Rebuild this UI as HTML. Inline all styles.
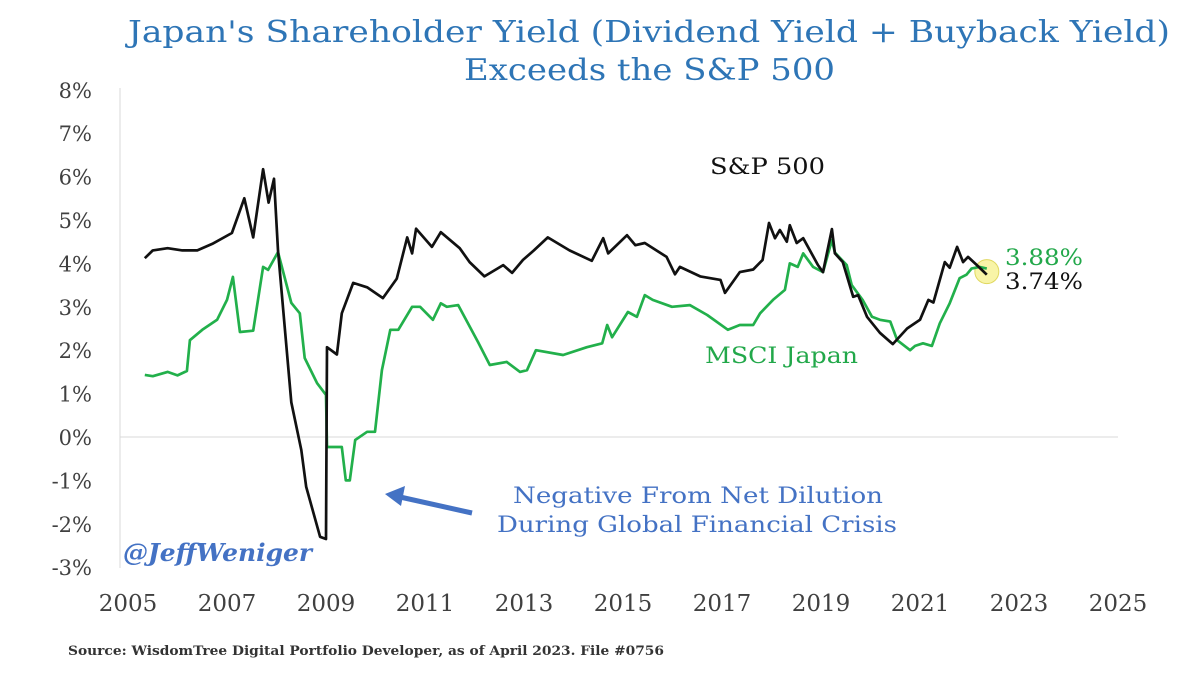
<!DOCTYPE html>
<html><head><meta charset="utf-8"><style>
html,body{margin:0;padding:0;background:#fff;}
svg{display:block;font-family:"DejaVu Serif","Liberation Serif",serif;}
</style></head><body>
<svg id="chart" width="1200" height="675" viewBox="0 0 1200 675">
<text x="128" y="42" font-size="30" fill="#2e75b6" textLength="1042" lengthAdjust="spacingAndGlyphs">Japan's Shareholder Yield (Dividend Yield + Buyback Yield)</text>
<text x="464" y="80" font-size="30" fill="#2e75b6" textLength="371" lengthAdjust="spacingAndGlyphs">Exceeds the S&amp;P 500</text>
<g id="yaxis"></g>
<g id="xaxis"></g>
<line x1="120" y1="88" x2="120" y2="568" stroke="#d9d9d9" stroke-width="1"/>
<g id="series"></g>
<circle id="endcircle" r="12" fill="#f5f08a" fill-opacity="0.75" stroke="#e0d860"/>
<text x="710" y="174" font-size="22" fill="#111" textLength="115" lengthAdjust="spacingAndGlyphs">S&amp;P 500</text>
<text x="705" y="363" font-size="22" fill="#22a84a" textLength="153" lengthAdjust="spacingAndGlyphs">MSCI Japan</text>
<text x="1005" y="265" font-size="22" fill="#22a84a" textLength="78" lengthAdjust="spacingAndGlyphs">3.88%</text>
<text x="1005" y="289" font-size="22" fill="#111" textLength="78" lengthAdjust="spacingAndGlyphs">3.74%</text>
<text x="513" y="503" font-size="22" fill="#4472c4" textLength="370" lengthAdjust="spacingAndGlyphs">Negative From Net Dilution</text>
<text x="497" y="532" font-size="22" fill="#4472c4" textLength="400" lengthAdjust="spacingAndGlyphs">During Global Financial Crisis</text>
<line x1="472" y1="513" x2="400" y2="497" stroke="#4472c4" stroke-width="5"/>
<polygon points="385,494 405,486 401,506" fill="#4472c4"/>
<text x="123" y="561" font-size="24" font-weight="bold" font-style="italic" fill="#4472c4" textLength="189" lengthAdjust="spacingAndGlyphs">@JeffWeniger</text>
<text x="68" y="655" font-size="13" font-weight="bold" fill="#333" textLength="596" lengthAdjust="spacingAndGlyphs">Source: WisdomTree Digital Portfolio Developer, as of April 2023. File #0756</text>
</svg>
<script>
const yTicks=[8,7,6,5,4,3,2,1,0,-1,-2,-3];
const xTicks=[2005,2007,2009,2011,2013,2015,2017,2019,2021,2023,2025];
const spYears=[2005.34,2005.5,2005.8,2006.1,2006.4,2006.7,2007.1,2007.35,2007.53,2007.73,2007.84,2007.95,2008.03,2008.3,2008.5,2008.6,2008.88,2009.0,2009.02,2009.22,2009.32,2009.55,2009.83,2010.15,2010.43,2010.64,2010.74,2010.82,2011.14,2011.32,2011.7,2011.9,2012.2,2012.58,2012.76,2012.98,2013.2,2013.48,2013.92,2014.37,2014.6,2014.7,2015.08,2015.25,2015.44,2015.88,2016.05,2016.15,2016.56,2016.97,2017.06,2017.36,2017.63,2017.82,2017.95,2018.07,2018.17,2018.31,2018.37,2018.51,2018.64,2018.94,2019.04,2019.22,2019.28,2019.44,2019.65,2019.75,2019.93,2020.19,2020.45,2020.74,2021.0,2021.17,2021.27,2021.5,2021.6,2021.75,2021.87,2021.97,2022.15,2022.35];
const spVals=[4.12,4.3,4.35,4.3,4.3,4.45,4.7,5.5,4.6,6.17,5.4,5.95,4.3,0.8,-0.3,-1.15,-2.3,-2.35,2.07,1.9,2.85,3.55,3.45,3.2,3.65,4.6,4.23,4.8,4.38,4.72,4.35,4.03,3.7,3.96,3.78,4.08,4.3,4.6,4.3,4.06,4.58,4.23,4.65,4.42,4.47,4.15,3.75,3.92,3.7,3.62,3.32,3.8,3.86,4.08,4.93,4.58,4.77,4.5,4.88,4.47,4.58,3.96,3.8,4.79,4.23,4.03,3.23,3.27,2.77,2.4,2.14,2.5,2.7,3.16,3.1,4.03,3.9,4.38,4.03,4.15,3.96,3.74];
const jpYears=[2005.34,2005.5,2005.8,2006.0,2006.19,2006.25,2006.5,2006.8,2007.0,2007.12,2007.26,2007.53,2007.73,2007.83,2008.03,2008.3,2008.47,2008.57,2008.82,2009.0,2009.02,2009.32,2009.4,2009.48,2009.59,2009.83,2009.99,2010.13,2010.3,2010.46,2010.74,2010.9,2011.16,2011.32,2011.44,2011.67,2012.07,2012.31,2012.65,2012.92,2013.06,2013.24,2013.79,2014.27,2014.58,2014.68,2014.78,2015.1,2015.28,2015.44,2015.6,2015.99,2016.35,2016.7,2017.12,2017.36,2017.63,2017.77,2018.03,2018.27,2018.37,2018.53,2018.64,2018.84,2019.04,2019.22,2019.28,2019.52,2019.62,2019.84,2020.03,2020.19,2020.4,2020.54,2020.8,2020.9,2021.06,2021.24,2021.4,2021.6,2021.8,2021.94,2022.04,2022.2,2022.35];
const jpVals=[1.43,1.4,1.5,1.42,1.52,2.23,2.47,2.7,3.16,3.69,2.42,2.45,3.92,3.85,4.26,3.09,2.85,1.82,1.24,0.97,-0.23,-0.23,-1.0,-1.0,-0.07,0.12,0.12,1.54,2.47,2.47,3.0,3.0,2.7,3.08,3.0,3.04,2.19,1.66,1.73,1.5,1.54,2.0,1.89,2.07,2.16,2.58,2.3,2.88,2.77,3.27,3.16,3.0,3.04,2.81,2.47,2.58,2.58,2.85,3.16,3.39,4.0,3.92,4.23,3.92,3.8,4.54,4.25,3.96,3.5,3.16,2.77,2.7,2.66,2.23,2.0,2.1,2.16,2.1,2.62,3.08,3.66,3.74,3.88,3.92,3.88];
const NS="http://www.w3.org/2000/svg";
function xS(y){return 128+(y-2005)*49.5;}
function yS(v){return 437-v*43.4;}
const ya=document.getElementById('yaxis');
yTicks.forEach(t=>{
  const tx=document.createElementNS(NS,'text');
  tx.setAttribute('x',92);tx.setAttribute('y',yS(t)+8);
  tx.setAttribute('text-anchor','end');tx.setAttribute('font-size','21');tx.setAttribute('fill','#404040');
  tx.textContent=t+'%';
  
  
  ya.appendChild(tx);
});
const zl=document.createElementNS(NS,'line');
zl.setAttribute('x1',120);zl.setAttribute('x2',1118);zl.setAttribute('y1',yS(0));zl.setAttribute('y2',yS(0));
zl.setAttribute('stroke','#d9d9d9');zl.setAttribute('stroke-width','1');


ya.appendChild(zl);
const xa=document.getElementById('xaxis');
xTicks.forEach(t=>{
  const tx=document.createElementNS(NS,'text');
  tx.setAttribute('x',xS(t));tx.setAttribute('y',611);
  tx.setAttribute('text-anchor','middle');tx.setAttribute('font-size','23');tx.setAttribute('fill','#404040');
  tx.textContent=t;
  
  
  xa.appendChild(tx);
});
const sg=document.getElementById('series');
function drawLine(xs,vs,color,name){
  const p=document.createElementNS(NS,'polyline');
  p.setAttribute('points',xs.map((x,i)=>xS(x).toFixed(1)+','+yS(vs[i]).toFixed(1)).join(' '));
  p.setAttribute('fill','none');p.setAttribute('stroke',color);p.setAttribute('stroke-width','2.7');
  p.setAttribute('stroke-linejoin','round');
  
  
  sg.appendChild(p);
}
drawLine(jpYears,jpVals,'#22b04b','msci-japan-line');
drawLine(spYears,spVals,'#111111','sp500-line');
const c=document.getElementById('endcircle');
c.setAttribute('cx',xS(spYears[spYears.length-1]));
c.setAttribute('cy',yS((spVals[spVals.length-1]+jpVals[jpVals.length-1])/2));
sg.parentNode.insertBefore(c,sg);
</script>
</body></html>
